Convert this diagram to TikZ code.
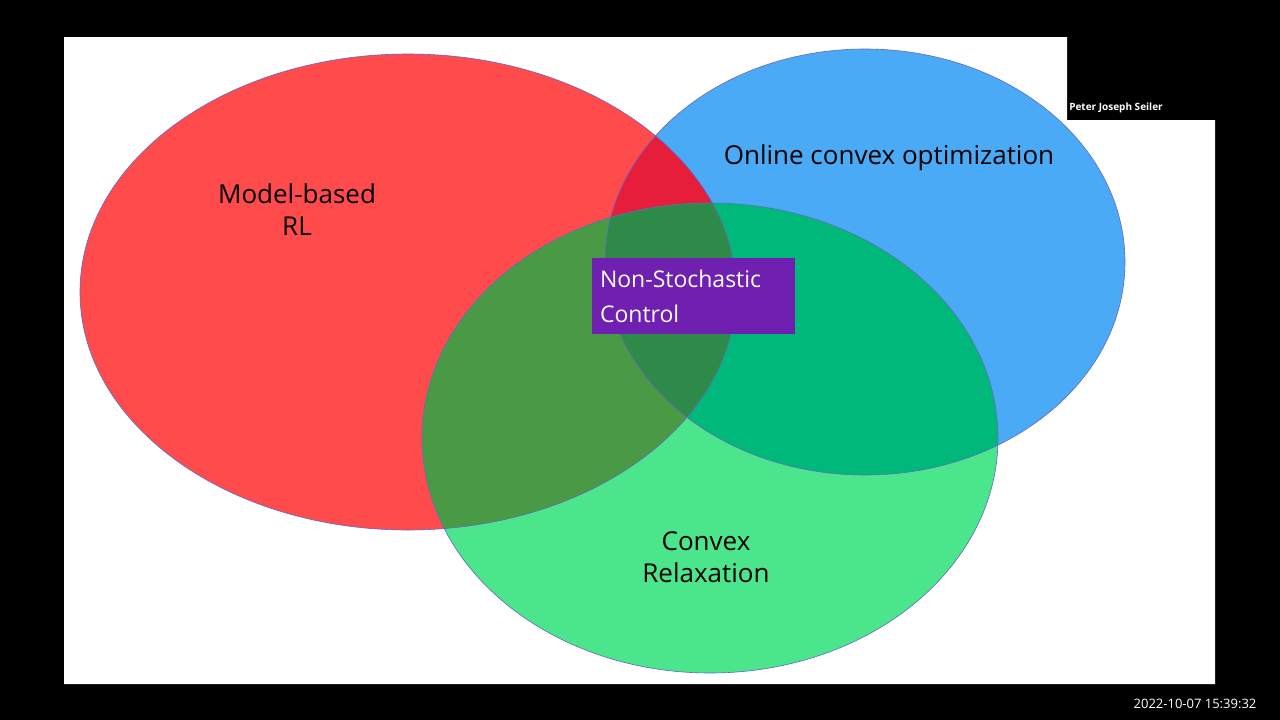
\documentclass[tikz,border=0pt]{standalone}
\usepackage{fontspec}
\setmainfont{Open Sans}
\begin{document}
\begin{tikzpicture}[x=1pt,y=-1pt,
  lbl/.style={font=\fontsize{26}{32}\selectfont,align=center,text=black},
  edge/.style={draw=black!40!blue!60,line width=0.6pt}]
\fill[black] (0,0) rectangle (1280,720);
\useasboundingbox (0,0) rectangle (1280,720);
\fill[white] (64,37) -- (1067,37) -- (1067,120) -- (1215,120) -- (1215,684) -- (64,684) -- cycle;
\def\R{(408,292) ellipse [x radius=328,y radius=238]}
\def\B{(865,262) ellipse [x radius=260,y radius=213]}
\def\G{(710,438) ellipse [x radius=288,y radius=235]}
\fill[red!70!white!100,fill={rgb,255:red,255;green,75;blue,75}] \R;
\fill[fill={rgb,255:red,75;green,170;blue,245}] \B;
\fill[fill={rgb,255:red,75;green,230;blue,140}] \G;
\begin{scope}\clip \R; \fill[fill={rgb,255:red,230;green,30;blue,60}] \B;\end{scope}
\begin{scope}\clip \R; \fill[fill={rgb,255:red,74;green,154;blue,69}] \G;\end{scope}
\begin{scope}\clip \B; \fill[fill={rgb,255:red,0;green,184;blue,122}] \G;\end{scope}
\begin{scope}\clip \R; \clip \B; \fill[fill={rgb,255:red,46;green,138;blue,72}] \G;\end{scope}
\draw[edge] \R; \draw[edge] \B; \draw[edge] \G;
\node[lbl] (rl) at (297,210) {Model-based\\RL};
\node[lbl] (oco) at (889,158) {Online convex optimization};
\node[lbl] (cr) at (706,557) {Convex\\Relaxation};
\node[fill={rgb,255:red,112;green,32;blue,176},minimum width=203pt,minimum height=76pt,text=white,align=left,font=\fontsize{23}{35}\selectfont,inner sep=8pt,text width=187pt] (ns) at (693.5,296) {Non-Stochastic\\Control};
\node[text=white,font=\bfseries\fontsize{10}{12}\selectfont] (name) at (1116,108) {Peter Joseph Seiler};
\node[text=white,font=\fontsize{13}{15}\selectfont] (ts) at (1195,704) {2022-10-07 15:39:32};
\end{tikzpicture}
\end{document}
